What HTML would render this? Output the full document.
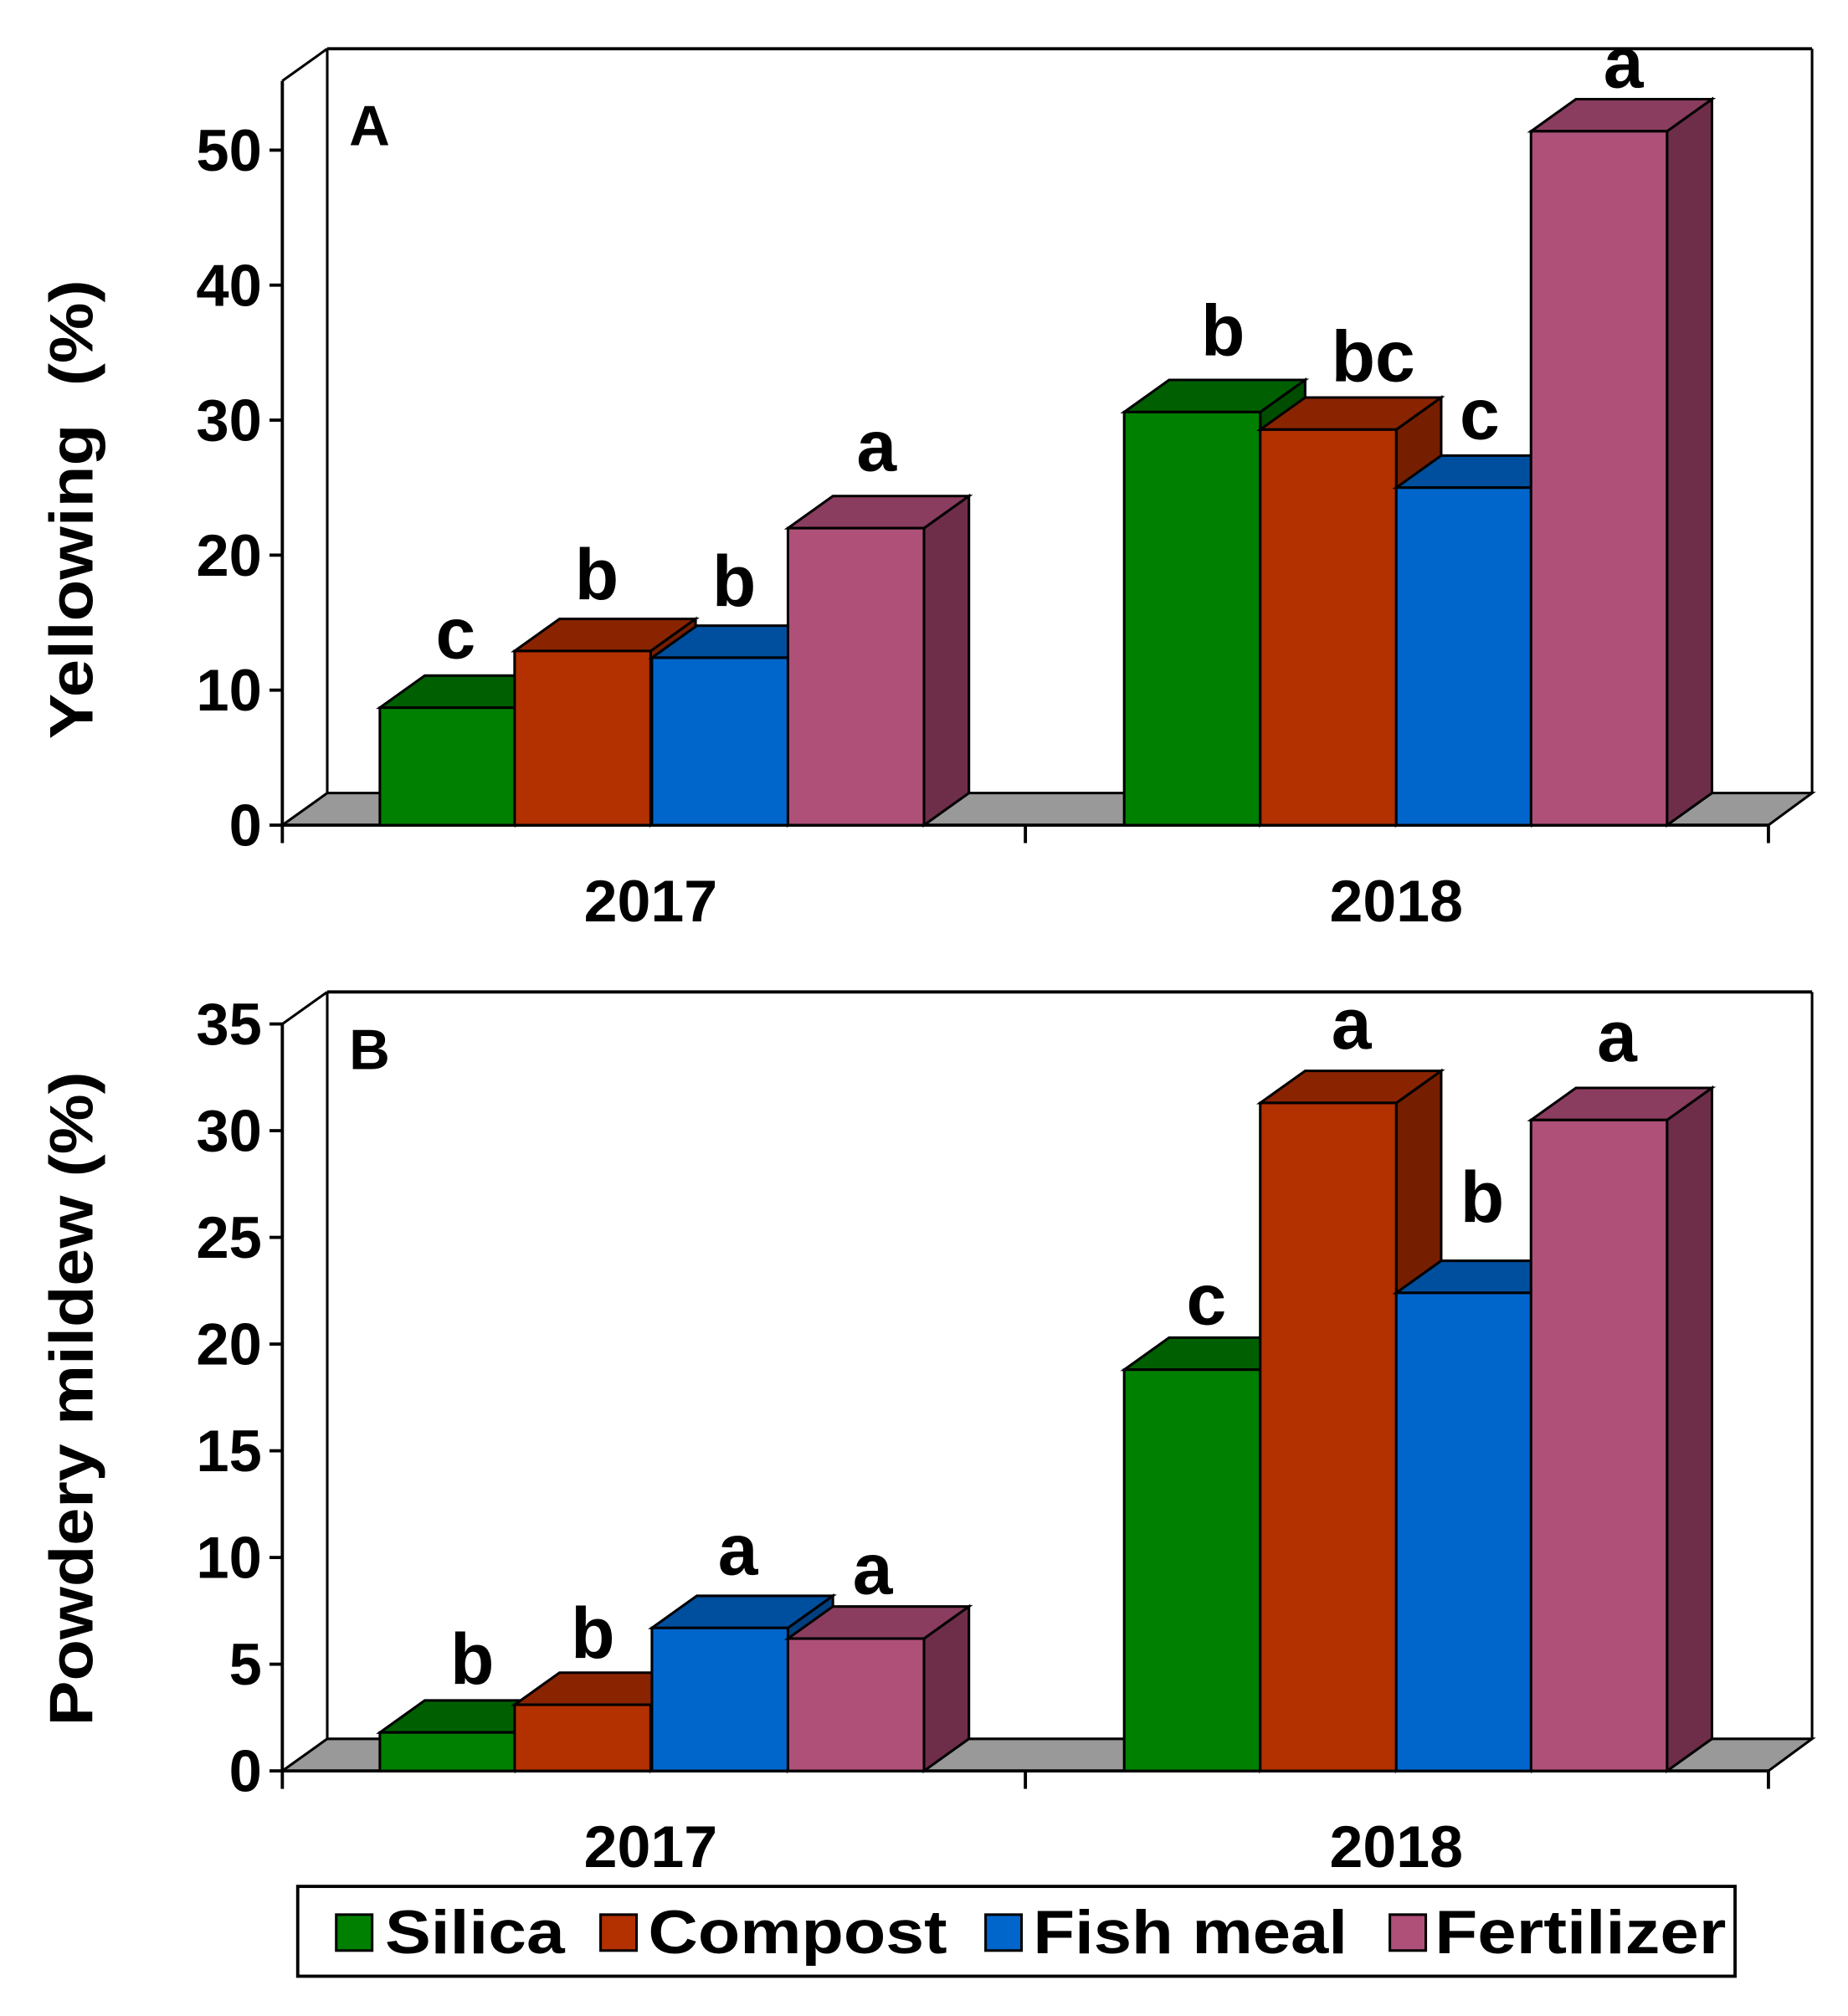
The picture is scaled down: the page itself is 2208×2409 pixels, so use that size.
<!DOCTYPE html>
<html><head><meta charset="utf-8"><style>
html,body{margin:0;padding:0;background:#fff}
svg{display:block}
text{font-family:"Liberation Sans",Arial,sans-serif;font-weight:bold;fill:#000}
</style></head><body>
<svg id="s" width="2208" height="2409" viewBox="0 0 1440 1571" preserveAspectRatio="none" xmlns="http://www.w3.org/2000/svg"></svg>
<script>
var s=document.getElementById('s'),h='';
var DX=35,DY=-25;
var cols=[['#008000','#005f00','#004d00'],['#B33000','#8a2400','#751e00'],['#0066CC','#004f9e','#003f80'],['#AE5078','#8a3d5f','#6e2e4a']];
function panel(base,top,perUnit,step,tickLbls,vals,lets,letter,ly,title,tcy,tlen){
 h+='<polygon points="220,'+(top+25)+' 255,'+top+' 1412,'+top+' 1412,'+(base-25)+' 255,'+(base-25)+' 220,'+base+'" fill="#fff"/>';
 h+='<line x1="255" y1="'+top+'" x2="1412" y2="'+top+'" stroke="#000" stroke-width="2.5"/>';
 h+='<line x1="255" y1="'+top+'" x2="255" y2="'+(base-25)+'" stroke="#000" stroke-width="2"/>';
 h+='<line x1="1412" y1="'+top+'" x2="1412" y2="'+(base-25)+'" stroke="#000" stroke-width="2"/>';
 h+='<line x1="220" y1="'+(top+25)+'" x2="255" y2="'+top+'" stroke="#000" stroke-width="2"/>';
 h+='<polygon points="220,'+base+' 1378,'+base+' 1412,'+(base-25)+' 255,'+(base-25)+'" fill="#999" stroke="#000" stroke-width="2"/>';
 h+='<line x1="220" y1="'+(top+25)+'" x2="220" y2="'+base+'" stroke="#000" stroke-width="2.5"/>';
 h+='<line x1="220" y1="'+base+'" x2="1378" y2="'+base+'" stroke="#000" stroke-width="2.5"/>';
 [220,799,1378].forEach(function(x){h+='<line x1="'+x+'" y1="'+base+'" x2="'+x+'" y2="'+(base+14)+'" stroke="#000" stroke-width="2.5"/>';});
 for(var i=0;i<tickLbls.length;i++){var y=base-i*step*perUnit;
  h+='<line x1="210" y1="'+y+'" x2="220" y2="'+y+'" stroke="#000" stroke-width="2.5"/>';
  h+='<text x="204" y="'+(y+16)+'" font-size="46" text-anchor="end">'+tickLbls[i]+'</text>';}
 var xs=[[296,401,508,614],[876,982,1088,1193]];var w=106;
 for(var g=0;g<2;g++)for(var b=0;b<4;b++){
  var x=xs[g][b],v=vals[g][b],y=base-v*perUnit,c=cols[b];
  h+='<polygon points="'+(x+w)+','+y+' '+(x+w+DX)+','+(y+DY)+' '+(x+w+DX)+','+(base+DY)+' '+(x+w)+','+base+'" fill="'+c[2]+'" stroke="#000" stroke-width="2"/>';
  h+='<polygon points="'+x+','+y+' '+(x+DX)+','+(y+DY)+' '+(x+w+DX)+','+(y+DY)+' '+(x+w)+','+y+'" fill="'+c[1]+'" stroke="#000" stroke-width="2"/>';
  h+='<rect x="'+x+'" y="'+y+'" width="'+w+'" height="'+(base-y)+'" fill="'+c[0]+'" stroke="#000" stroke-width="2"/>';
 }
 lets.forEach(function(l){h+='<text x="'+l[1]+'" y="'+l[2]+'" font-size="56" text-anchor="middle">'+l[0]+'</text>';});
 h+='<text x="507" y="'+(base+75)+'" font-size="46" text-anchor="middle" textLength="104" lengthAdjust="spacingAndGlyphs">2017</text>';
 h+='<text x="1088" y="'+(base+75)+'" font-size="46" text-anchor="middle" textLength="104" lengthAdjust="spacingAndGlyphs">2018</text>';
 h+='<text x="272" y="'+ly+'" font-size="44">'+letter+'</text>';
 h+='<text transform="translate(72,'+tcy+') rotate(-90)" font-size="48" text-anchor="middle" textLength="'+tlen+'" lengthAdjust="spacingAndGlyphs" xml:space="preserve">'+title+'</text>';
}
panel(643,38,10.52,10,['0','10','20','30','40','50'],
 [[8.7,12.9,12.4,22],[30.6,29.3,25,51.4]],
 [['c',355,513],['b',465,467],['b',572,472],['a',683,367],['b',953,277],['bc',1070,297],['c',1153,342],['a',1265,68]],'A',113,'Yellowing  (%)',397,358);
panel(1380,773,16.63,5,['0','5','10','15','20','25','30','35'],
 [[1.8,3.1,6.7,6.2],[18.8,31.3,22.4,30.5]],
 [['b',368,1312],['b',462,1292],['a',575,1227],['a',680,1242],['c',940,1032],['a',1053,817],['b',1155,952],['a',1260,827]],'B',833,'Powdery mildew (%)',1090,510);
h+='<rect x="232" y="1470" width="1120" height="70" fill="#fff" stroke="#000" stroke-width="2.5"/>';
[[262,300,'Silica',0,140],[468,505,'Compost',1,233],[768,805,'Fish meal',2,245],[1083,1118,'Fertilizer',3,227]].forEach(function(l){
 h+='<rect x="'+l[0]+'" y="1492" width="28" height="28" fill="'+cols[l[3]][0]+'" stroke="#000" stroke-width="2"/>';
 h+='<text x="'+l[1]+'" y="1522" font-size="48" textLength="'+l[4]+'" lengthAdjust="spacingAndGlyphs">'+l[2]+'</text>';});
s.innerHTML=h;
</script>
</body></html>
